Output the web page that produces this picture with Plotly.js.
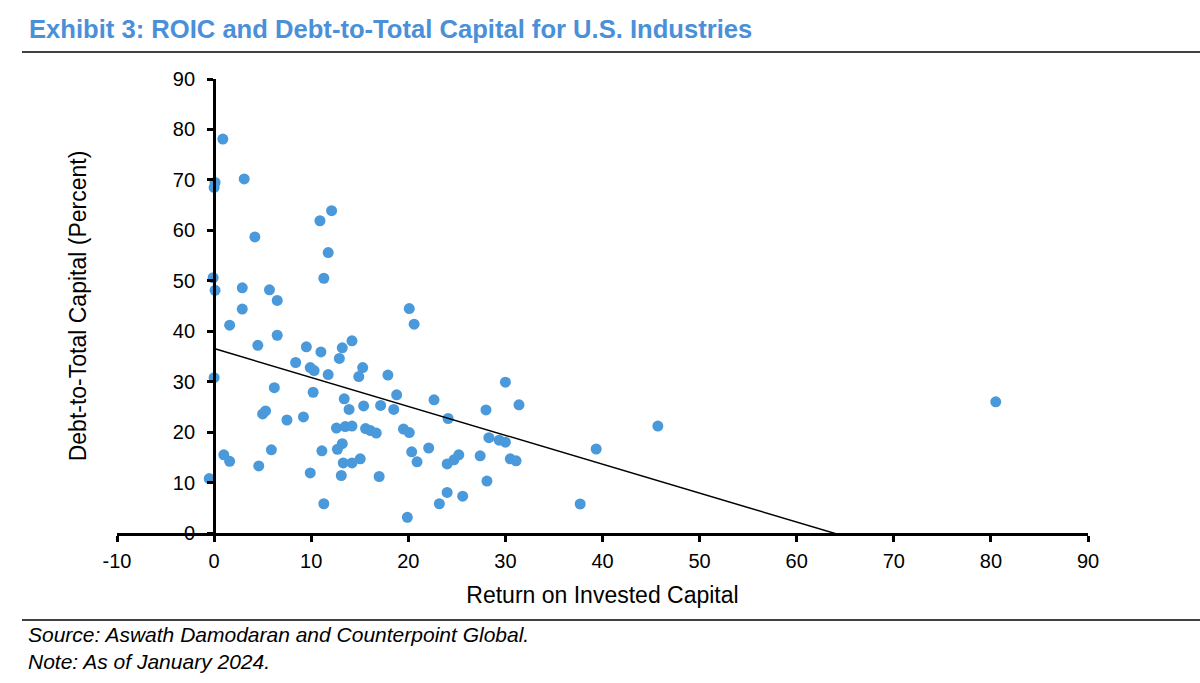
<!DOCTYPE html>
<html>
<head>
<meta charset="utf-8">
<script src="https://cdn.plot.ly/plotly-3.0.1.min.js"></script>
<style>html,body{margin:0;padding:0;background:#fff;}#chart{width:1200px;height:683px;}</style>
</head>
<body>
<div id="chart"></div>
<script>
// Return on Invested Capital (x, %) and Debt-to-Total Capital (y, %) per U.S. industry
const roic = [
  0.9, 0.1, 0.0, 3.1, 4.2, 10.9, 12.1, 11.75, 11.3, -0.1,
  0.1, 2.9, 5.7, 6.5, 2.9, 1.6, 6.5, 4.5, 9.5, 11.0,
  13.2, 14.2, 12.9, 8.4, 9.9, 10.3, 11.75, 15.3, 14.9, 17.9,
  18.8, 0.0, 6.2, 10.2, 13.4, 13.9, 15.4, 17.15, 18.5, 5.0,
  5.3, 7.5, 9.2, 12.6, 13.5, 14.2, 15.6, 16.1, 16.7, 19.5,
  20.1, 1.0, 1.6, -0.5, 4.6, 5.9, 11.1, 12.7, 13.2, 13.3,
  14.2, 15.05, 9.9, 13.1, 17.0, 11.3, 20.1, 20.6, 22.65, 24.1,
  28.0, 30.0, 31.4, 20.35, 20.9, 22.1, 24.0, 24.7, 25.2, 27.4,
  28.3, 29.35, 30.0, 30.5, 31.1, 39.35, 24.0, 25.6, 28.1, 23.2,
  37.7, 19.9, 45.7, 80.5
];
const debtToCapital = [
  78.1, 69.5, 68.5, 70.2, 58.7, 61.9, 63.9, 55.6, 50.5, 50.6,
  48.1, 48.6, 48.2, 46.1, 44.4, 41.2, 39.2, 37.2, 36.9, 35.9,
  36.7, 38.1, 34.6, 33.8, 32.8, 32.2, 31.4, 32.8, 31.0, 31.3,
  27.4, 30.8, 28.8, 27.9, 26.6, 24.5, 25.2, 25.3, 24.5, 23.6,
  24.2, 22.4, 23.0, 20.8, 21.1, 21.2, 20.7, 20.3, 19.8, 20.6,
  19.9, 15.5, 14.2, 10.8, 13.3, 16.5, 16.3, 16.6, 17.7, 13.9,
  13.9, 14.7, 11.9, 11.4, 11.2, 5.8, 44.5, 41.4, 26.4, 22.7,
  24.4, 29.9, 25.4, 16.1, 14.1, 16.85, 13.7, 14.5, 15.5, 15.3,
  18.9, 18.4, 18.0, 14.7, 14.3, 16.65, 8.05, 7.3, 10.3, 5.8,
  5.75, 3.1, 21.2, 26.0
];
const xTicks = [-10, 0, 10, 20, 30, 40, 50, 60, 70, 80, 90];
const yTicks = [0, 10, 20, 30, 40, 50, 60, 70, 80, 90];

// Linear (least-squares) trendline computed from the data
const n = roic.length;
const mx = roic.reduce((a, b) => a + b, 0) / n;
const my = debtToCapital.reduce((a, b) => a + b, 0) / n;
let sxy = 0, sxx = 0;
for (let i = 0; i < n; i++) { sxy += (roic[i] - mx) * (debtToCapital[i] - my); sxx += (roic[i] - mx) ** 2; }
const slope = sxy / sxx;
const intercept = my - slope * mx;
const trendX = [0, Math.max(...roic)];
const trendY = trendX.map(x => intercept + slope * x);

// Layout geometry (pixels)
const W = 1200, H = 683;
const L = 117, R = 112, T = 79, B = 150;
const pw = W - L - R, ph = H - T - B;
const px = x => (x - L) / pw;
const py = y => (H - B - y) / ph;

const font = 'Liberation Sans, Arial, sans-serif';

const data = [
  {
    x: roic, y: debtToCapital, type: 'scatter', mode: 'markers',
    marker: { color: '#4A99DA', size: 11 },
    cliponaxis: false, hoverinfo: 'x+y'
  },
  {
    x: trendX, y: trendY, type: 'scatter', mode: 'lines',
    line: { color: '#000', width: 1.5 }, hoverinfo: 'skip'
  }
];

const layout = {
  width: W, height: H,
  margin: { l: L, r: R, t: T, b: B },
  paper_bgcolor: '#fff', plot_bgcolor: '#fff',
  showlegend: false,
  font: { family: font, color: '#000' },
  title: {
    text: '<b>Exhibit 3: ROIC and Debt-to-Total Capital for U.S. Industries</b>',
    font: { family: font, size: 25.6, color: '#4A90D9' },
    xref: 'container', yref: 'container',
    x: 29 / W, xanchor: 'left', y: 1 - 29 / H, yanchor: 'middle'
  },
  xaxis: {
    range: [-10, 90], tickvals: xTicks, ticktext: xTicks.map(String),
    showgrid: false, zeroline: false,
    showline: true, linecolor: '#000', linewidth: 3,
    ticks: 'outside', ticklen: 6, tickwidth: 3, tickcolor: '#000',
    tickfont: { size: 20, family: font, color: '#000' },
    ticklabelstandoff: 2,
    title: { text: 'Return on Invested Capital', font: { size: 23, family: font, color: '#000' }, standoff: 16 },
    fixedrange: true
  },
  yaxis: {
    range: [0, 90], tickvals: yTicks, ticktext: yTicks.map(String),
    anchor: 'free', position: 0.1,
    showgrid: false, zeroline: false,
    showline: true, linecolor: '#000', linewidth: 3,
    ticks: 'outside', ticklen: 6, tickwidth: 3, tickcolor: '#000',
    tickfont: { size: 20, family: font, color: '#000' },
    ticklabelstandoff: 8,
    title: { text: 'Debt-to-Total Capital (Percent)', font: { size: 23, family: font, color: '#000' }, standoff: 78 },
    fixedrange: true
  },
  shapes: [
    { type: 'line', xref: 'paper', yref: 'paper', x0: px(22), x1: px(1200), y0: py(52), y1: py(52), line: { color: '#000', width: 1.5 } },
    { type: 'line', xref: 'paper', yref: 'paper', x0: px(22), x1: px(1200), y0: py(620), y1: py(620), line: { color: '#000', width: 1.5 } }
  ],
  annotations: [
    { xref: 'paper', yref: 'paper', x: px(26), y: py(634), xanchor: 'left', yanchor: 'middle', showarrow: false,
      text: '<i>Source: Aswath Damodaran and Counterpoint Global.</i>', font: { size: 21, family: font, color: '#000' } },
    { xref: 'paper', yref: 'paper', x: px(26), y: py(661), xanchor: 'left', yanchor: 'middle', showarrow: false,
      text: '<i>Note: As of January 2024.</i>', font: { size: 21, family: font, color: '#000' } }
  ]
};

Plotly.newPlot('chart', data, layout, { staticPlot: true, displayModeBar: false });
</script>
</body>
</html>
